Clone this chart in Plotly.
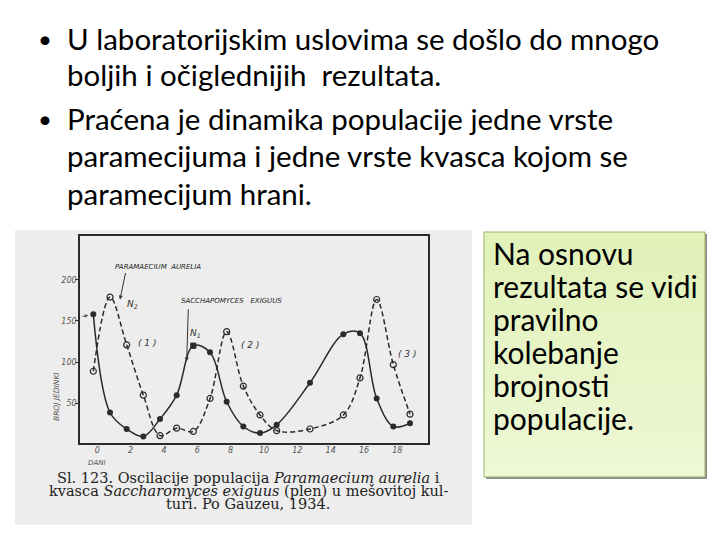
import plotly.graph_objects as go

# Gause 1934 - Paramecium aurelia / Saccharomyces exiguus
days_yeast = [0, 1, 2, 3, 4, 5, 6, 7, 8, 9, 10, 11, 13, 15, 16, 17, 18, 19]
yeast = [158, 39, 19, 10, 31, 60, 120, 112, 52, 22, 14, 24, 75, 134, 135, 56, 22, 26]

days_param = [0, 1, 2, 3, 4, 5, 6, 7, 8, 9, 10, 11, 13, 15, 16, 17, 18, 19]
param = [89, 179, 121, 60, 11, 20, 16, 56, 137, 71, 36, 17, 19, 36, 81, 176, 97, 37]

square_day = [6]
square_val = [120]

x_ticks = [0, 2, 4, 6, 8, 10, 12, 14, 16, 18]
x_labels = ["0", "2", "4", "6", "8", "10", "12", "14", "16", "18"]
y_ticks = [50, 100, 150, 200]
y_labels = ["50", "100", "150", "200"]

bullets = [
    ["U laboratorijskim uslovima se došlo do mnogo", "boljih i očiglednijih  rezultata."],
    ["Praćena je dinamika populacije jedne vrste",
     "paramecijuma i jedne vrste kvasca kojom se", "paramecijum hrani."],
]
box_lines = ["Na osnovu", "rezultata se vidi", "pravilno", "kolebanje", "brojnosti", "populacije."]
caption = [
    "Sl. 123. Oscilacije populacija <i>Paramaecium aurelia</i> i",
    "kvasca <i>Saccharomyces exiguus</i> (plen) u mešovitoj kul-",
    "turi. Po Gauzeu, 1934.",
]

W, H = 720, 540
ink = "#2b2b2b"
scan_font = dict(family="DejaVu Sans", size=8, color="#555555", style="italic")


def px(x):
    return x / W


def py(y):
    return 1 - y / H


fig = go.Figure()

fig.add_trace(go.Scatter(x=days_yeast, y=yeast, mode="lines+markers",
                         line=dict(color=ink, width=1.5, shape="spline", smoothing=1.0),
                         marker=dict(symbol="circle", size=6, color=ink),
                         showlegend=False, hoverinfo="skip"))
fig.add_trace(go.Scatter(x=days_param, y=param, mode="lines+markers",
                         line=dict(color=ink, width=1.5, dash="5px,3px", shape="spline", smoothing=1.0),
                         marker=dict(symbol="circle-open", size=6, color=ink, line=dict(width=1.2)),
                         showlegend=False, hoverinfo="skip"))
fig.add_trace(go.Scatter(x=square_day, y=square_val, mode="markers",
                         marker=dict(symbol="square", size=6, color=ink),
                         showlegend=False, hoverinfo="skip"))

# scanned picture background
fig.add_shape(type="rect", xref="paper", yref="paper", x0=px(15), x1=px(472), y0=py(525), y1=py(230),
              fillcolor="#ededed", line=dict(width=0), layer="below")

# green note box: shadow, gradient stripes, border
fig.add_shape(type="rect", xref="paper", yref="paper", x0=px(486), x1=px(707), y0=py(479), y1=py(234),
              fillcolor="#8c8c8c", line=dict(width=0), layer="below")
top_rgb = (226, 242, 186)
bot_rgb = (238, 248, 212)
n = 24
for i in range(n):
    t = i / (n - 1)
    c = tuple(int(a + (b - a) * t) for a, b in zip(top_rgb, bot_rgb))
    y0 = 232 + (477 - 232) * i / n
    y1 = min(477, 232 + (477 - 232) * (i + 1) / n + 1.5)
    fig.add_shape(type="rect", xref="paper", yref="paper", x0=px(484), x1=px(705), y0=py(y1), y1=py(y0),
                  fillcolor="rgb(%d,%d,%d)" % c, line=dict(width=0), layer="below")
fig.add_shape(type="rect", xref="paper", yref="paper", x0=px(484), x1=px(705), y0=py(477), y1=py(232),
              line=dict(color="#9bb56a", width=1))

# bullet text
base = [49, 86, 130, 167, 204]
k = 0
for para in bullets:
    for j, line in enumerate(para):
        if j == 0:
            fig.add_annotation(xref="paper", yref="paper", x=px(45), y=py(base[k] - 11), text="•",
                               showarrow=False, xanchor="center", yanchor="middle",
                               font=dict(family="Lato", size=24, color="#000000"))
        fig.add_annotation(xref="paper", yref="paper", x=px(65), y=py(base[k] - 11), text=line,
                           showarrow=False, xanchor="left", yanchor="middle",
                           font=dict(family="Lato", size=29.5, color="#000000"))
        k += 1

for i, line in enumerate(box_lines):
    fig.add_annotation(xref="paper", yref="paper", x=px(491), y=py(262 + 33 * i - 9), text=line,
                       showarrow=False, xanchor="left", yanchor="middle",
                       font=dict(family="Lato", size=30, color="#000000"))

# caption under the scanned figure
cap_y = [478, 491, 504]
for i, line in enumerate(caption):
    fig.add_annotation(xref="paper", yref="paper", x=px(248), y=py(cap_y[i]), text=line,
                       showarrow=False, xanchor="center", yanchor="middle",
                       font=dict(family="DejaVu Serif", size=14.5, color="#222222"))

# labels inside the scanned chart
small = dict(family="DejaVu Sans", size=7, color="#222222", style="italic")
fig.add_annotation(x=3.85, y=215, text="PARAMAECIUM  AURELIA", showarrow=False, font=small)
fig.add_annotation(x=8.3, y=174, text="SACCHAPOMYCES   EXIGUUS", showarrow=False, font=small)
fig.add_annotation(x=1.6, y=176, ax=1.95, ay=210, axref="x", ayref="y", text="", showarrow=True,
                   arrowhead=2, arrowsize=0.8, arrowwidth=1, arrowcolor="#333333")
fig.add_annotation(x=5.6, y=101, ax=5.7, ay=166, axref="x", ayref="y", text="", showarrow=True,
                   arrowhead=2, arrowsize=0.8, arrowwidth=1, arrowcolor="#333333")
fig.add_annotation(x=-0.3, y=157, ax=-0.75, ay=155, axref="x", ayref="y", text="", showarrow=True,
                   arrowhead=2, arrowsize=0.7, arrowwidth=1, arrowcolor="#555555")
lab = dict(family="DejaVu Sans", size=9, color="#333333", style="italic")
fig.add_annotation(x=2.35, y=170, text="N<sub>2</sub>", showarrow=False, font=lab)
fig.add_annotation(x=6.1, y=135, text="N<sub>1</sub>", showarrow=False, font=lab)
fig.add_annotation(x=3.2, y=123, text="( 1 )", showarrow=False, font=lab)
fig.add_annotation(x=9.4, y=121, text="( 2 )", showarrow=False, font=lab)
fig.add_annotation(x=18.8, y=110, text="( 3 )", showarrow=False, font=lab)
fig.add_annotation(xref="paper", yref="paper", x=px(56), y=py(397), text="BROJ JEDINKI",
                   textangle=-90, showarrow=False, xanchor="center", yanchor="middle",
                   font=dict(family="DejaVu Sans", size=7.5, color="#555555", style="italic"))
fig.add_annotation(xref="paper", yref="paper", x=px(96), y=py(463), text="DANI",
                   showarrow=False, xanchor="center", yanchor="middle",
                   font=dict(family="DejaVu Sans", size=7, color="#555555", style="italic"))

fig.update_xaxes(domain=[px(80), px(428)], range=[-0.8, 20.08], tickvals=x_ticks, ticktext=x_labels,
                 showgrid=False, zeroline=False, showline=True, linecolor=ink, linewidth=1.5, mirror=True,
                 ticks="", ticklabelshift=4, ticklabelstandoff=-1, tickfont=scan_font)
fig.update_yaxes(domain=[py(443), py(236)], range=[2, 253], tickvals=y_ticks, ticktext=y_labels,
                 showgrid=False, zeroline=False, showline=True, linecolor=ink, linewidth=1.5, mirror=True,
                 ticks="outside", ticklen=3, tickcolor=ink, ticklabelstandoff=-3, tickfont=scan_font)

fig.update_layout(width=W, height=H, margin=dict(l=0, r=0, t=0, b=0),
                  paper_bgcolor="#ffffff", plot_bgcolor="rgba(0,0,0,0)")

fig.write_html("out.html", config={"displayModeBar": False},
               post_script="document.body.style.margin='0';")
